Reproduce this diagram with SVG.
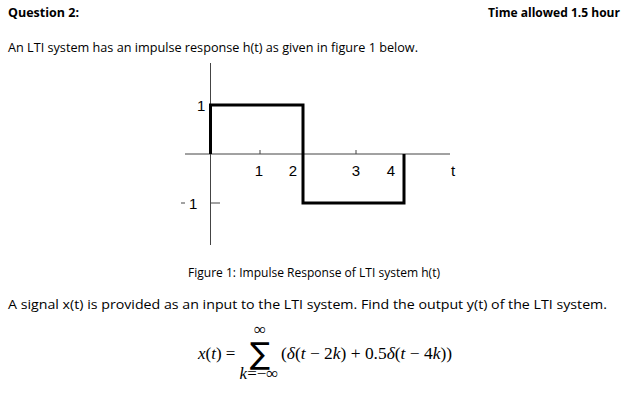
<svg xmlns="http://www.w3.org/2000/svg" width="629" height="410" viewBox="0 0 629 410">
<style>
.t{font-family:"Open Sans","Liberation Sans",sans-serif;font-size:13px;fill:#000}
.b{font-weight:bold}
.g{font-family:"Liberation Sans",Arial,sans-serif;font-size:15px;fill:#000}
.m{font-family:"Liberation Serif","DejaVu Serif",serif;font-size:17px;fill:#000}
.i{font-style:italic}
.ax{stroke:#444;stroke-width:1;fill:none}
.sig{stroke:#000;stroke-width:3;fill:none}
</style>
<rect width="629" height="410" fill="#fff"/>
<text class="t b" x="8" y="17" textLength="71" lengthAdjust="spacingAndGlyphs">Question 2:</text>
<text class="t b" x="488" y="17" textLength="132" lengthAdjust="spacingAndGlyphs">Time allowed 1.5 hour</text>
<text class="t" x="8" y="52" textLength="410" lengthAdjust="spacingAndGlyphs">An LTI system has an impulse response h(t) as given in figure 1 below.</text>
<g id="plot">
<line class="ax" x1="210.5" y1="63" x2="210.5" y2="245"/>
<line class="ax" x1="185" y1="154" x2="450" y2="154"/>
<line class="ax" x1="260" y1="150" x2="260" y2="154"/>
<line class="ax" x1="356" y1="150" x2="356" y2="154"/>
<line class="ax" x1="181" y1="203" x2="185" y2="203"/>
<line class="ax" x1="210" y1="203" x2="220" y2="203"/>
<polyline class="sig" points="210.5,154 210.5,105 303,105 303,203 404,203 404,154"/>
<text class="g" x="197" y="111">1</text>
<text class="g" x="189" y="209">1</text>
<text class="g" x="259" y="176" text-anchor="middle">1</text>
<text class="g" x="293" y="176" text-anchor="middle">2</text>
<text class="g" x="356" y="176" text-anchor="middle">3</text>
<text class="g" x="391" y="176" text-anchor="middle">4</text>
<text class="g" x="453" y="176" text-anchor="middle">t</text>
</g>
<text class="t" x="188" y="277" textLength="252" lengthAdjust="spacingAndGlyphs">Figure 1: Impulse Response of LTI system h(t)</text>
<text class="t" x="8" y="309" textLength="599" lengthAdjust="spacingAndGlyphs">A signal x(t) is provided as an input to the LTI system. Find the output y(t) of the LTI system.</text>
<g id="formula">
<text class="m" x="198" y="359"><tspan class="i">x</tspan>(<tspan class="i">t</tspan>) =</text>
<text x="260" y="364" text-anchor="middle" font-family="DejaVu Sans,sans-serif" font-size="30">∑</text>
<text class="m" x="260" y="335" text-anchor="middle" font-size="11">∞</text>
<text class="m" x="259" y="379" text-anchor="middle" font-size="11"><tspan class="i">k</tspan>=−∞</text>
<text class="m" x="281" y="359" textLength="171" lengthAdjust="spacingAndGlyphs">(<tspan class="i">δ</tspan>(<tspan class="i">t</tspan> − 2<tspan class="i">k</tspan>) + 0.5<tspan class="i">δ</tspan>(<tspan class="i">t</tspan> − 4<tspan class="i">k</tspan>))</text>
</g>
</svg>
